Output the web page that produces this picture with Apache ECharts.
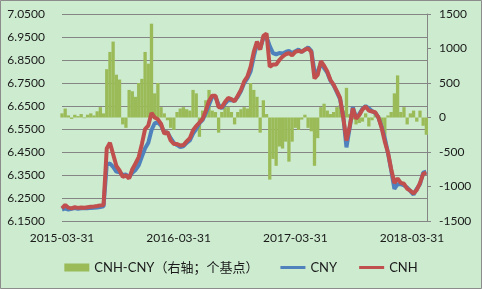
<!DOCTYPE html>
<html><head><meta charset="utf-8">
<script src="https://cdn.jsdelivr.net/npm/echarts@6/dist/echarts.min.js"></script>
<style>
html,body{margin:0;padding:0;background:#fff;}
#c{width:482px;height:289px;}
</style></head><body><div id="c"></div>
<script>
const dates = [
'2015-03-31','2015-04-10','2015-04-20','2015-04-30','2015-05-10','2015-05-20','2015-05-30','2015-06-09','2015-06-19','2015-06-29',
'2015-07-09','2015-07-19','2015-07-29','2015-08-08','2015-08-18','2015-08-28','2015-09-07','2015-09-17','2015-09-27','2015-10-07',
'2015-10-17','2015-10-27','2015-11-06','2015-11-16','2015-11-26','2015-12-06','2015-12-16','2015-12-26','2016-01-05','2016-01-15',
'2016-01-25','2016-02-04','2016-02-14','2016-02-24','2016-03-05','2016-03-15','2016-03-25','2016-04-04','2016-04-14','2016-04-24',
'2016-05-04','2016-05-14','2016-05-24','2016-06-03','2016-06-13','2016-06-23','2016-07-03','2016-07-13','2016-07-23','2016-08-02',
'2016-08-12','2016-08-22','2016-09-01','2016-09-11','2016-09-21','2016-10-01','2016-10-11','2016-10-21','2016-10-31','2016-11-10',
'2016-11-20','2016-11-30','2016-12-10','2016-12-20','2016-12-30','2017-01-09','2017-01-19','2017-01-29','2017-02-08','2017-02-18',
'2017-02-28','2017-03-10','2017-03-20','2017-03-30','2017-04-09','2017-04-19','2017-04-29','2017-05-09','2017-05-19','2017-05-29',
'2017-06-08','2017-06-18','2017-06-28','2017-07-08','2017-07-18','2017-07-28','2017-08-07','2017-08-17','2017-08-27','2017-09-06',
'2017-09-16','2017-09-26','2017-10-06','2017-10-16','2017-10-26','2017-11-05','2017-11-15','2017-11-25','2017-12-05','2017-12-15',
'2017-12-25','2018-01-04','2018-01-14','2018-01-24','2018-02-03','2018-02-13','2018-02-23','2018-03-05','2018-03-15','2018-03-25',
'2018-04-04','2018-04-14','2018-04-24','2018-05-04','2018-05-14'
];
const cny = [
6.200,6.205,6.200,6.203,6.206,6.203,6.205,6.206,6.205,6.207,
6.208,6.209,6.211,6.214,6.395,6.400,6.385,6.365,6.362,6.350,
6.352,6.340,6.360,6.372,6.392,6.430,6.466,6.490,6.545,6.575,
6.578,6.565,6.535,6.535,6.510,6.490,6.480,6.472,6.475,6.490,
6.500,6.530,6.550,6.575,6.590,6.620,6.655,6.690,6.690,6.655,
6.640,6.660,6.675,6.675,6.673,6.690,6.715,6.750,6.770,6.800,
6.865,6.920,6.900,6.945,6.950,6.910,6.880,6.875,6.880,6.878,
6.885,6.890,6.880,6.888,6.895,6.885,6.895,6.905,6.890,6.800,
6.800,6.835,6.815,6.795,6.760,6.740,6.710,6.680,6.605,6.470,
6.555,6.645,6.600,6.615,6.638,6.650,6.640,6.628,6.620,6.600,
6.560,6.510,6.445,6.370,6.290,6.310,6.310,6.305,6.295,6.280,
6.265,6.290,6.310,6.360,6.365
];
const cnh = [
6.205,6.220,6.208,6.205,6.210,6.207,6.209,6.208,6.210,6.212,
6.213,6.215,6.218,6.220,6.465,6.490,6.440,6.390,6.370,6.342,
6.348,6.335,6.375,6.400,6.428,6.485,6.550,6.565,6.620,6.600,
6.592,6.572,6.530,6.537,6.500,6.485,6.485,6.478,6.480,6.496,
6.510,6.545,6.563,6.578,6.594,6.630,6.672,6.695,6.695,6.645,
6.645,6.667,6.685,6.680,6.670,6.695,6.720,6.757,6.778,6.820,
6.885,6.930,6.895,6.955,6.965,6.820,6.830,6.830,6.850,6.865,
6.875,6.880,6.870,6.885,6.890,6.885,6.895,6.900,6.885,6.770,
6.785,6.845,6.825,6.800,6.763,6.742,6.715,6.685,6.600,6.500,
6.560,6.640,6.595,6.610,6.635,6.648,6.630,6.626,6.623,6.600,
6.555,6.495,6.447,6.375,6.315,6.335,6.316,6.312,6.290,6.282,
6.270,6.285,6.315,6.355,6.360
];
const spread = [
60,130,30,-20,40,20,50,-10,40,60,
30,90,150,60,700,950,1100,620,550,-100,
-150,400,380,300,500,560,950,780,1360,350,
500,150,60,-40,-150,-180,80,130,150,120,
100,400,350,-280,100,250,400,100,80,-220,
80,150,150,80,-100,80,120,150,130,500,
400,300,-220,250,50,-900,-600,-700,-420,-450,
-350,-640,-350,-150,-180,-30,40,-150,-200,-700,
-300,150,200,100,50,80,150,180,100,430,
50,-30,-100,-80,-60,60,-130,-40,60,30,
-120,-280,30,80,350,610,80,150,-100,60,
100,-60,100,-120,-250
];
const xStart = '2015-03-31';
const xEnd = '2018-05-16';
const xTickLabels = ['2015-03-31','2016-03-31','2017-03-31','2018-03-31'];
const leftMin = 6.15, leftMax = 7.05, leftStep = 0.1;
const rightMin = -1500, rightMax = 1500, rightStep = 500;
const names = ['CNH-CNY（右轴；个基点）','CNY','CNH'];

function dayNum(s){const p=s.split('-');return Date.UTC(+p[0],+p[1]-1,+p[2])/86400000;}
const day0 = dayNum(xStart);
const off = s => dayNum(s) - day0;
const xTickOff = xTickLabels.map(off);
const pairs = arr => dates.map((d,i)=>[off(d),arr[i]]);

const FONT = 'Lato, "Noto Sans CJK SC", sans-serif';
const TXT = '#1a1a1a';
const GRIDC = '#858585';

const chart = echarts.init(document.getElementById('c'), null, {renderer:'canvas'});
chart.setOption({
  backgroundColor:'#CCEBCF',
  animation:false,
  textStyle:{fontFamily:FONT},
  graphic:[{type:'rect',silent:true,z:100,shape:{x:0.5,y:0.5,width:481,height:288},style:{fill:'none',stroke:'#8c8c8c',lineWidth:1}}],
  grid:{left:62,right:55,top:14,bottom:68,containLabel:false},
  legend:{
    left:'center', top:261, padding:0, itemGap:22, itemWidth:25, itemHeight:8,
    textStyle:{fontFamily:FONT,fontSize:13,color:TXT},
    data:[
      {name:names[0],icon:'rect'},
      {name:names[1],icon:'path://M0,0H25V3H0Z'},
      {name:names[2],icon:'path://M0,0H25V3H0Z'}
    ]
  },
  xAxis:{
    type:'value', min:0, max:off(xEnd), interval:365,
    axisLine:{show:false}, axisTick:{show:false}, splitLine:{show:false},
    axisLabel:{
      margin:11, fontSize:12, color:TXT, fontFamily:FONT, showMaxLabel:false,
      formatter:function(v){
        for(let i=0;i<xTickOff.length;i++){ if(Math.abs(xTickOff[i]-v)<3) return xTickLabels[i]; }
        return '';
      }
    }
  },
  yAxis:[
    {type:'value', min:leftMin, max:leftMax, interval:leftStep, position:'left',
     axisLine:{show:false}, axisTick:{show:false},
     splitLine:{show:true,lineStyle:{color:GRIDC,width:1}},
     axisLabel:{margin:17,fontSize:12,color:TXT,fontFamily:FONT,formatter:v=>v.toFixed(4)}},
    {type:'value', min:rightMin, max:rightMax, interval:rightStep, position:'right',
     axisLine:{show:true,lineStyle:{color:GRIDC,width:1}},
     axisTick:{show:true,inside:false,length:4,lineStyle:{color:GRIDC}},
     splitLine:{show:false},
     axisLabel:{margin:12,fontSize:12,color:TXT,fontFamily:FONT,formatter:v=>String(v)}}
  ],
  series:[
    {name:names[0], type:'bar', yAxisIndex:1, barWidth:3.3, color:'#9BBB59',
     itemStyle:{color:'#9BBB59'}, data:pairs(spread), z:2},
    {name:names[1], type:'line', yAxisIndex:0, color:'#4F81BD', symbol:'none', showSymbol:false,
     lineStyle:{color:'#4F81BD',width:4}, data:pairs(cny), z:3},
    {name:names[2], type:'line', yAxisIndex:0, color:'#C0504D', symbol:'none', showSymbol:false,
     lineStyle:{color:'#C0504D',width:4}, data:pairs(cnh), z:4}
  ]
});
</script></body></html>
